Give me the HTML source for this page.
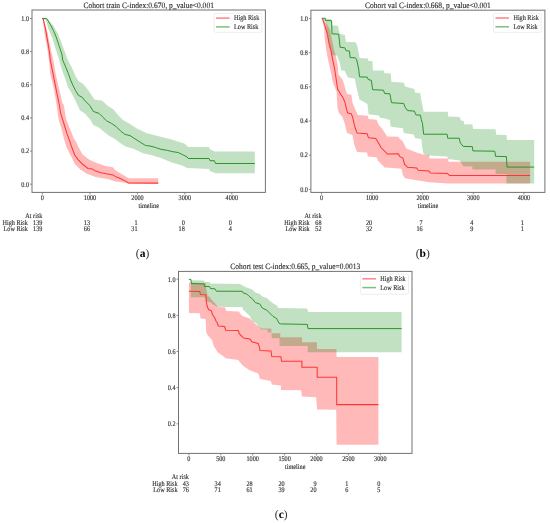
<!DOCTYPE html>
<html><head><meta charset="utf-8"><style>
html,body{margin:0;padding:0;background:#fff;}
body{width:550px;height:523px;overflow:hidden;}
svg{display:block;}
svg text{font-family:"Liberation Serif",serif;fill:#2a2a2a;stroke:#2a2a2a;text-rendering:geometricPrecision;}
</style></head><body>
<svg width="550" height="523" viewBox="0 0 550 523">
<defs><filter id="bl" x="0" y="0" width="550" height="523" filterUnits="userSpaceOnUse"><feGaussianBlur stdDeviation="0.35"/></filter></defs>
<rect width="550" height="523" fill="#fff"/>
<g filter="url(#bl)">
<rect width="550" height="523" fill="#fff"/>
<polygon points="42.3,18.4 43.7,19.8 47.8,34.1 50.2,46.5 52.6,57.1 53.7,62.0 55.7,74.3 59.1,88.7 62.4,103.0 63.8,105.0 66.2,119.3 70.0,128.9 73.9,138.5 76.2,142.0 78.2,146.5 82.4,154.2 89.0,159.6 96.6,162.9 106.4,166.2 113.0,167.3 115.0,170.0 119.5,172.7 124.1,175.5 128.6,178.2 158.2,178.2 158.2,183.8 128.6,183.8 122.3,182.3 115.2,181.4 108.6,179.3 95.5,177.1 86.8,173.8 80.3,169.4 74.8,164.0 69.4,153.1 66.3,147.0 63.9,138.5 61.5,128.9 58.6,119.3 57.3,110.0 56.3,103.0 53.9,88.7 50.3,74.3 49.1,62.0 48.3,55.2 46.4,43.7 44.5,34.1 42.8,19.8 42.3,18.4" fill="#ff0000" fill-opacity="0.275"/>
<polygon points="42.3,18.4 47.1,18.6 53.3,25.5 58.1,34.1 62.9,46.5 66.7,57.1 67.9,60.0 71.8,67.6 75.6,76.3 78.5,81.0 83.2,83.9 88.5,90.6 94.6,99.8 102.0,100.5 107.7,105.7 113.5,109.6 118.2,115.3 123.0,120.1 130.0,123.9 136.4,128.2 147.3,133.6 150.0,134.0 158.7,136.2 171.8,139.5 184.9,143.8 188.2,147.1 209.0,147.1 210.0,149.3 214.4,151.5 254.8,151.5 254.8,173.3 215.5,173.3 210.0,171.0 209.0,169.0 187.1,167.9 182.8,165.7 171.8,162.4 160.9,158.0 150.0,154.8 143.6,153.6 132.7,148.5 125.9,146.8 120.2,143.0 115.4,139.2 108.7,135.4 104.9,132.5 99.1,127.7 93.4,124.9 90.5,120.1 84.8,113.4 80.0,110.5 78.0,106.0 75.6,101.1 71.8,93.5 67.9,86.8 66.0,81.0 62.2,70.5 60.5,65.0 58.6,58.0 55.2,47.5 52.3,37.9 48.5,29.3 46.1,20.7 42.3,18.4" fill="#008000" fill-opacity="0.24"/>
<polyline points="42.3,18.4 43.3,19.3 45.6,29.3 47.6,40.8 49.5,52.3 50.3,60.0 52.2,69.6 54.1,79.1 56.0,88.7 57.9,98.2 59.3,105.0 60.7,113.6 62.6,119.3 64.6,126.0 67.0,133.7 69.8,141.3 71.5,146.5 74.8,155.3 78.1,159.6 82.4,164.0 87.9,168.4 92.3,168.9 95.5,171.1 101.0,172.7 106.4,173.8 113.0,174.9 116.3,177.1 118.6,177.7 122.3,179.5 125.9,181.4 128.6,182.9 158.2,183.1" fill="none" stroke="#ff3636" stroke-width="1.05" stroke-linejoin="miter"/>
<polyline points="42.3,18.4 46.6,18.4 50.4,24.6 53.3,30.3 56.2,37.0 59.0,45.6 61.9,54.2 62.7,60.0 65.1,65.7 67.9,72.4 70.3,79.1 72.7,84.9 75.6,90.6 78.5,95.4 82.3,97.3 84.3,100.0 89.6,105.3 93.4,111.5 99.1,113.4 102.9,117.2 106.8,121.0 111.5,123.4 116.3,126.8 120.2,130.6 124.9,134.4 130.0,135.6 138.2,140.9 145.5,145.5 150.0,146.0 155.5,147.5 160.9,149.3 167.5,150.4 171.8,151.5 178.4,152.6 182.8,154.8 187.1,156.9 188.2,158.5 209.0,158.5 210.0,160.7 214.4,160.7 215.5,163.5 254.8,163.5" fill="none" stroke="#2a962a" stroke-width="1.0" stroke-linejoin="miter"/>
<rect x="32.0" y="10.0" width="233.4" height="182.4" fill="none" stroke="#727272" stroke-width="1"/>
<line x1="30.0" y1="184.2" x2="32.0" y2="184.2" stroke="#727272" stroke-width="0.8"/>
<text transform="translate(29.00,186.50) scale(0.0970,0.1120)" text-anchor="end" font-size="64.0" stroke-width="1.20">0.0</text>
<line x1="30.0" y1="151.1" x2="32.0" y2="151.1" stroke="#727272" stroke-width="0.8"/>
<text transform="translate(29.00,153.36) scale(0.0970,0.1120)" text-anchor="end" font-size="64.0" stroke-width="1.20">0.2</text>
<line x1="30.0" y1="117.9" x2="32.0" y2="117.9" stroke="#727272" stroke-width="0.8"/>
<text transform="translate(29.00,120.22) scale(0.0970,0.1120)" text-anchor="end" font-size="64.0" stroke-width="1.20">0.4</text>
<line x1="30.0" y1="84.8" x2="32.0" y2="84.8" stroke="#727272" stroke-width="0.8"/>
<text transform="translate(29.00,87.08) scale(0.0970,0.1120)" text-anchor="end" font-size="64.0" stroke-width="1.20">0.6</text>
<line x1="30.0" y1="51.6" x2="32.0" y2="51.6" stroke="#727272" stroke-width="0.8"/>
<text transform="translate(29.00,53.94) scale(0.0970,0.1120)" text-anchor="end" font-size="64.0" stroke-width="1.20">0.8</text>
<line x1="30.0" y1="18.5" x2="32.0" y2="18.5" stroke="#727272" stroke-width="0.8"/>
<text transform="translate(29.00,20.80) scale(0.0970,0.1120)" text-anchor="end" font-size="64.0" stroke-width="1.20">1.0</text>
<line x1="42.4" y1="192.4" x2="42.4" y2="194.4" stroke="#727272" stroke-width="0.8"/>
<text transform="translate(42.40,200.05) scale(0.0970,0.1120)" text-anchor="middle" font-size="64.0" stroke-width="1.20">0</text>
<line x1="90.0" y1="192.4" x2="90.0" y2="194.4" stroke="#727272" stroke-width="0.8"/>
<text transform="translate(90.00,200.05) scale(0.0970,0.1120)" text-anchor="middle" font-size="64.0" stroke-width="1.20">1000</text>
<line x1="137.5" y1="192.4" x2="137.5" y2="194.4" stroke="#727272" stroke-width="0.8"/>
<text transform="translate(137.50,200.05) scale(0.0970,0.1120)" text-anchor="middle" font-size="64.0" stroke-width="1.20">2000</text>
<line x1="184.8" y1="192.4" x2="184.8" y2="194.4" stroke="#727272" stroke-width="0.8"/>
<text transform="translate(184.80,200.05) scale(0.0970,0.1120)" text-anchor="middle" font-size="64.0" stroke-width="1.20">3000</text>
<line x1="231.8" y1="192.4" x2="231.8" y2="194.4" stroke="#727272" stroke-width="0.8"/>
<text transform="translate(231.80,200.05) scale(0.0970,0.1120)" text-anchor="middle" font-size="64.0" stroke-width="1.20">4000</text>
<text transform="translate(148.72,207.85) scale(0.0970,0.1120)" text-anchor="middle" font-size="64.0" stroke-width="1.20">timeline</text>
<text transform="translate(148.72,7.75) scale(0.0970,0.1070)" text-anchor="middle" font-size="77.5" stroke-width="1.20">Cohort train C-index:0.670, p_value&lt;0.001</text>
<rect x="214.1" y="13.4" width="47.9" height="18.9" rx="1.5" fill="#fff" fill-opacity="0.8" stroke="#e2e2e2" stroke-width="0.6"/>
<line x1="216.0" y1="18.1" x2="229.6" y2="18.1" stroke="#ff3636" stroke-opacity="0.62" stroke-width="1.5"/>
<line x1="216.0" y1="26.9" x2="229.6" y2="26.9" stroke="#2a962a" stroke-opacity="0.62" stroke-width="1.5"/>
<text transform="translate(234.00,20.30) scale(0.0970,0.1120)" font-size="64.0" stroke-width="1.20">High Risk</text>
<text transform="translate(234.00,29.10) scale(0.0970,0.1120)" font-size="64.0" stroke-width="1.20">Low Risk</text>
<text transform="translate(42.40,218.05) scale(0.0970,0.1120)" text-anchor="end" font-size="64.0" stroke-width="1.20">At risk</text>
<text transform="translate(27.80,224.65) scale(0.0970,0.1120)" text-anchor="end" font-size="64.0" stroke-width="1.20">High Risk</text>
<text transform="translate(27.80,231.25) scale(0.0970,0.1120)" text-anchor="end" font-size="64.0" stroke-width="1.20">Low Risk</text>
<text transform="translate(42.40,224.65) scale(0.0970,0.1120)" text-anchor="end" font-size="64.0" stroke-width="1.20">139</text>
<text transform="translate(42.40,231.25) scale(0.0970,0.1120)" text-anchor="end" font-size="64.0" stroke-width="1.20">139</text>
<text transform="translate(90.00,224.65) scale(0.0970,0.1120)" text-anchor="end" font-size="64.0" stroke-width="1.20">13</text>
<text transform="translate(90.00,231.25) scale(0.0970,0.1120)" text-anchor="end" font-size="64.0" stroke-width="1.20">66</text>
<text transform="translate(137.50,224.65) scale(0.0970,0.1120)" text-anchor="end" font-size="64.0" stroke-width="1.20">1</text>
<text transform="translate(137.50,231.25) scale(0.0970,0.1120)" text-anchor="end" font-size="64.0" stroke-width="1.20">31</text>
<text transform="translate(184.80,224.65) scale(0.0970,0.1120)" text-anchor="end" font-size="64.0" stroke-width="1.20">0</text>
<text transform="translate(184.80,231.25) scale(0.0970,0.1120)" text-anchor="end" font-size="64.0" stroke-width="1.20">18</text>
<text transform="translate(231.80,224.65) scale(0.0970,0.1120)" text-anchor="end" font-size="64.0" stroke-width="1.20">0</text>
<text transform="translate(231.80,231.25) scale(0.0970,0.1120)" text-anchor="end" font-size="64.0" stroke-width="1.20">4</text>
<text x="142.5" y="257.0" text-anchor="middle" font-size="11.5" style="fill:#333;stroke:none">(<tspan font-weight="bold" style="fill:#000">a</tspan>)</text>
<polygon points="321.9,18.3 326.0,21.9 330.1,30.0 332.0,40.0 334.1,50.0 335.7,55.6 337.7,65.0 338.4,74.2 342.8,79.9 346.8,93.7 351.4,94.8 352.5,102.8 356.0,110.9 357.8,115.0 367.8,115.7 368.5,119.1 376.5,119.7 378.5,124.4 381.9,128.4 385.9,134.5 387.2,136.5 398.3,136.7 400.0,138.9 402.5,141.0 406.4,148.5 416.5,152.6 422.9,154.6 429.3,155.0 429.5,158.6 448.3,158.6 448.5,161.7 530.1,161.7 530.1,183.4 448.3,183.4 429.3,182.2 416.5,180.3 405.1,178.3 402.9,174.9 401.4,168.8 386.1,167.5 385.2,167.9 381.2,163.9 377.8,160.6 376.5,157.2 367.8,156.5 367.1,152.5 357.1,151.9 354.4,145.2 352.4,135.1 347.0,133.1 344.4,122.4 342.4,117.0 339.0,113.0 337.6,108.6 336.5,91.4 332.7,81.9 330.7,71.2 328.0,59.2 326.0,48.5 324.7,39.1 324.0,28.4 322.7,20.4 321.9,18.9" fill="#ff0000" fill-opacity="0.275"/>
<polygon points="321.9,18.3 331.0,18.9 332.2,25.2 337.9,25.8 339.7,33.8 344.8,34.9 346.0,41.8 355.7,42.2 357.2,45.5 358.6,52.2 359.6,57.9 367.7,58.4 368.2,60.8 372.5,61.3 372.9,70.4 383.9,70.4 384.4,73.2 390.6,73.2 391.5,82.0 403.7,82.5 405.2,86.6 414.4,88.9 415.2,92.8 420.2,92.9 421.3,100.3 423.6,111.8 447.7,111.8 448.3,116.4 459.7,117.0 460.9,120.4 463.7,121.0 464.3,124.4 472.4,124.3 473.1,129.0 495.5,129.3 496.3,134.7 506.4,135.0 507.1,140.1 534.2,140.1 534.2,183.4 506.4,183.4 506.4,174.1 495.5,174.1 495.5,169.5 472.4,169.5 472.4,166.4 463.1,166.2 461.1,162.4 459.8,160.5 448.0,158.9 447.3,156.6 428.9,155.5 423.6,154.3 422.0,145.9 421.3,139.0 415.2,138.2 413.6,134.4 403.7,132.9 402.9,128.3 390.7,126.8 389.9,119.9 383.8,118.3 380.0,117.8 378.9,115.5 368.6,114.3 367.4,104.0 359.4,99.4 358.3,94.8 356.0,85.1 354.8,78.8 347.9,77.6 344.5,70.7 341.1,70.2 339.9,63.0 337.1,55.6 331.8,55.3 330.1,50.0 327.7,40.0 326.4,30.0 325.9,21.2 321.9,18.3" fill="#008000" fill-opacity="0.24"/>
<polyline points="321.9,18.3 322.5,18.9 325.3,26.9 327.6,34.9 329.0,43.0 331.1,51.0 333.0,61.3 334.5,68.2 335.6,75.3 337.6,89.1 339.9,93.1 343.3,98.3 345.1,102.8 346.8,110.3 347.7,113.0 351.1,113.7 352.4,116.4 355.1,127.8 357.1,133.1 367.1,133.8 368.5,137.8 375.8,138.5 377.8,141.8 381.2,147.8 385.9,152.5 387.2,153.9 398.3,153.8 399.9,156.6 402.9,158.1 404.5,164.2 407.5,167.3 416.7,168.0 418.2,170.3 428.9,171.1 430.5,173.1 447.3,173.4 449.6,175.5 530.1,175.5" fill="none" stroke="#ff3636" stroke-width="1.05" stroke-linejoin="miter"/>
<polyline points="321.9,18.3 325.3,18.3 325.3,20.6 331.6,20.7 332.0,33.8 338.7,34.2 340.1,47.3 344.8,47.8 346.1,50.7 349.5,51.1 350.1,57.6 355.3,57.8 356.7,59.9 358.5,68.0 359.6,76.9 367.2,77.1 368.2,79.5 371.4,80.4 372.6,89.7 383.5,90.2 384.6,93.5 389.9,93.8 391.5,102.7 403.7,103.5 405.2,107.3 407.5,110.6 414.4,111.1 415.9,114.9 420.5,115.2 421.3,119.8 422.5,123.3 423.6,134.2 447.1,134.2 447.7,138.2 459.2,138.2 460.3,142.8 463.2,146.4 472.3,146.6 472.9,150.9 494.8,151.2 495.5,156.3 506.4,156.6 507.1,167.1 534.2,167.1" fill="none" stroke="#2a962a" stroke-width="1.0" stroke-linejoin="miter"/>
<rect x="310.9" y="10.2" width="234.0" height="182.2" fill="none" stroke="#727272" stroke-width="1"/>
<line x1="308.9" y1="189.3" x2="310.9" y2="189.3" stroke="#727272" stroke-width="0.8"/>
<text transform="translate(307.95,191.60) scale(0.0970,0.1120)" text-anchor="end" font-size="64.0" stroke-width="1.20">0.0</text>
<line x1="308.9" y1="155.2" x2="310.9" y2="155.2" stroke="#727272" stroke-width="0.8"/>
<text transform="translate(307.95,157.46) scale(0.0970,0.1120)" text-anchor="end" font-size="64.0" stroke-width="1.20">0.2</text>
<line x1="308.9" y1="121.0" x2="310.9" y2="121.0" stroke="#727272" stroke-width="0.8"/>
<text transform="translate(307.95,123.32) scale(0.0970,0.1120)" text-anchor="end" font-size="64.0" stroke-width="1.20">0.4</text>
<line x1="308.9" y1="86.9" x2="310.9" y2="86.9" stroke="#727272" stroke-width="0.8"/>
<text transform="translate(307.95,89.18) scale(0.0970,0.1120)" text-anchor="end" font-size="64.0" stroke-width="1.20">0.6</text>
<line x1="308.9" y1="52.7" x2="310.9" y2="52.7" stroke="#727272" stroke-width="0.8"/>
<text transform="translate(307.95,55.04) scale(0.0970,0.1120)" text-anchor="end" font-size="64.0" stroke-width="1.20">0.8</text>
<line x1="308.9" y1="18.6" x2="310.9" y2="18.6" stroke="#727272" stroke-width="0.8"/>
<text transform="translate(307.95,20.90) scale(0.0970,0.1120)" text-anchor="end" font-size="64.0" stroke-width="1.20">1.0</text>
<line x1="321.5" y1="192.4" x2="321.5" y2="194.4" stroke="#727272" stroke-width="0.8"/>
<text transform="translate(321.50,200.05) scale(0.0970,0.1120)" text-anchor="middle" font-size="64.0" stroke-width="1.20">0</text>
<line x1="372.1" y1="192.4" x2="372.1" y2="194.4" stroke="#727272" stroke-width="0.8"/>
<text transform="translate(372.10,200.05) scale(0.0970,0.1120)" text-anchor="middle" font-size="64.0" stroke-width="1.20">1000</text>
<line x1="422.7" y1="192.4" x2="422.7" y2="194.4" stroke="#727272" stroke-width="0.8"/>
<text transform="translate(422.70,200.05) scale(0.0970,0.1120)" text-anchor="middle" font-size="64.0" stroke-width="1.20">2000</text>
<line x1="473.3" y1="192.4" x2="473.3" y2="194.4" stroke="#727272" stroke-width="0.8"/>
<text transform="translate(473.30,200.05) scale(0.0970,0.1120)" text-anchor="middle" font-size="64.0" stroke-width="1.20">3000</text>
<line x1="523.9" y1="192.4" x2="523.9" y2="194.4" stroke="#727272" stroke-width="0.8"/>
<text transform="translate(523.90,200.05) scale(0.0970,0.1120)" text-anchor="middle" font-size="64.0" stroke-width="1.20">4000</text>
<text transform="translate(427.96,207.85) scale(0.0970,0.1120)" text-anchor="middle" font-size="64.0" stroke-width="1.20">timeline</text>
<text transform="translate(427.96,7.70) scale(0.0970,0.1070)" text-anchor="middle" font-size="77.5" stroke-width="1.20">Cohort val C-index:0.668, p_value&lt;0.001</text>
<rect x="493.5" y="13.3" width="47.6" height="19.1" rx="1.5" fill="#fff" fill-opacity="0.8" stroke="#e2e2e2" stroke-width="0.6"/>
<line x1="495.4" y1="18.0" x2="509.0" y2="18.0" stroke="#ff3636" stroke-opacity="0.62" stroke-width="1.5"/>
<line x1="495.4" y1="26.8" x2="509.0" y2="26.8" stroke="#2a962a" stroke-opacity="0.62" stroke-width="1.5"/>
<text transform="translate(513.40,20.20) scale(0.0970,0.1120)" font-size="64.0" stroke-width="1.20">High Risk</text>
<text transform="translate(513.40,29.00) scale(0.0970,0.1120)" font-size="64.0" stroke-width="1.20">Low Risk</text>
<text transform="translate(321.50,218.05) scale(0.0970,0.1120)" text-anchor="end" font-size="64.0" stroke-width="1.20">At risk</text>
<text transform="translate(309.70,224.65) scale(0.0970,0.1120)" text-anchor="end" font-size="64.0" stroke-width="1.20">High Risk</text>
<text transform="translate(309.70,231.25) scale(0.0970,0.1120)" text-anchor="end" font-size="64.0" stroke-width="1.20">Low Risk</text>
<text transform="translate(321.50,224.65) scale(0.0970,0.1120)" text-anchor="end" font-size="64.0" stroke-width="1.20">68</text>
<text transform="translate(321.50,231.25) scale(0.0970,0.1120)" text-anchor="end" font-size="64.0" stroke-width="1.20">52</text>
<text transform="translate(372.10,224.65) scale(0.0970,0.1120)" text-anchor="end" font-size="64.0" stroke-width="1.20">20</text>
<text transform="translate(372.10,231.25) scale(0.0970,0.1120)" text-anchor="end" font-size="64.0" stroke-width="1.20">32</text>
<text transform="translate(422.70,224.65) scale(0.0970,0.1120)" text-anchor="end" font-size="64.0" stroke-width="1.20">7</text>
<text transform="translate(422.70,231.25) scale(0.0970,0.1120)" text-anchor="end" font-size="64.0" stroke-width="1.20">16</text>
<text transform="translate(473.30,224.65) scale(0.0970,0.1120)" text-anchor="end" font-size="64.0" stroke-width="1.20">4</text>
<text transform="translate(473.30,231.25) scale(0.0970,0.1120)" text-anchor="end" font-size="64.0" stroke-width="1.20">9</text>
<text transform="translate(523.90,224.65) scale(0.0970,0.1120)" text-anchor="end" font-size="64.0" stroke-width="1.20">1</text>
<text transform="translate(523.90,231.25) scale(0.0970,0.1120)" text-anchor="end" font-size="64.0" stroke-width="1.20">1</text>
<text x="422.7" y="257.0" text-anchor="middle" font-size="11.5" style="fill:#333;stroke:none">(<tspan font-weight="bold" style="fill:#000">b</tspan>)</text>
<polygon points="188.9,282.7 205.9,283.0 205.9,286.8 207.7,295.9 209.5,296.8 211.4,299.5 213.2,301.4 215.0,303.2 216.4,305.0 217.7,306.8 225.1,307.5 226.3,310.9 238.9,311.5 241.2,314.9 243.1,316.3 249.9,318.6 255.3,323.9 261.5,328.4 271.4,328.4 271.4,333.2 280.3,333.2 280.3,337.3 302.0,337.3 302.0,342.3 317.0,342.3 317.0,349.0 336.4,349.0 336.6,357.0 378.4,357.0 378.4,444.8 336.6,444.8 336.2,409.8 317.1,409.6 316.1,397.2 302.0,396.6 301.0,390.2 280.9,390.0 280.9,385.5 271.8,384.5 270.9,380.9 260.0,379.1 258.2,373.6 249.1,370.0 242.7,365.5 238.2,360.0 225.5,358.2 223.6,356.4 218.3,352.8 217.3,351.8 213.7,345.9 212.0,340.1 207.9,335.6 206.2,332.1 205.6,318.9 200.5,318.5 199.9,313.3 188.9,313.0" fill="#ff0000" fill-opacity="0.275"/>
<polygon points="188.9,279.3 191.5,280.2 204.1,280.4 204.5,281.9 209.7,282.1 210.3,283.4 240.0,283.9 243.1,285.7 246.1,287.2 252.2,289.5 255.3,292.6 259.9,294.1 262.2,296.4 266.8,297.9 269.1,300.2 272.9,303.3 276.7,305.6 278.2,307.9 307.3,308.5 308.0,312.0 401.6,312.0 401.6,352.3 307.7,352.3 307.7,345.9 279.5,345.9 279.5,338.3 271.8,338.3 271.4,332.5 267.5,332.5 267.5,329.5 261.0,329.5 256.8,323.9 252.2,320.9 249.9,316.3 244.6,310.9 242.9,309.2 242.3,306.9 225.7,306.9 216.8,306.5 212.3,304.1 210.5,302.3 205.9,301.4 204.5,297.3 190.9,297.3 190.9,279.5 188.9,279.3" fill="#008000" fill-opacity="0.24"/>
<polyline points="188.9,291.3 199.7,291.4 200.5,294.6 205.9,294.8 206.3,301.4 207.3,306.8 208.6,309.5 211.4,310.9 212.4,314.5 214.8,318.0 216.2,321.5 217.1,322.5 218.3,326.0 224.6,326.5 225.7,330.2 238.3,330.6 239.3,333.6 243.6,338.0 250.0,339.1 251.8,341.8 258.2,343.4 259.4,347.2 260.0,350.5 271.0,351.0 271.8,356.5 280.9,356.8 281.5,361.3 301.9,361.3 301.9,367.3 317.2,367.3 317.2,377.3 336.7,377.3 336.7,404.6 378.4,404.6" fill="none" stroke="#ff3636" stroke-width="1.05" stroke-linejoin="miter"/>
<polyline points="188.9,279.3 190.9,279.5 191.4,283.6 204.1,283.9 204.5,286.4 209.5,286.6 210.5,288.6 215.0,288.8 216.4,291.2 242.3,291.3 243.3,293.0 246.9,294.1 249.2,296.4 252.2,298.7 255.3,302.5 259.9,304.1 262.2,307.9 266.8,310.2 269.8,313.2 272.9,316.3 276.7,318.6 279.0,323.2 280.5,323.9 307.3,324.4 308.0,328.6 401.6,328.6" fill="none" stroke="#2a962a" stroke-width="1.0" stroke-linejoin="miter"/>
<rect x="178.5" y="271.4" width="233.5" height="182.0" fill="none" stroke="#727272" stroke-width="1"/>
<line x1="176.5" y1="423.8" x2="178.5" y2="423.8" stroke="#727272" stroke-width="0.8"/>
<text transform="translate(175.50,426.06) scale(0.0970,0.1120)" text-anchor="end" font-size="64.0" stroke-width="1.20">0.2</text>
<line x1="176.5" y1="387.6" x2="178.5" y2="387.6" stroke="#727272" stroke-width="0.8"/>
<text transform="translate(175.50,389.92) scale(0.0970,0.1120)" text-anchor="end" font-size="64.0" stroke-width="1.20">0.4</text>
<line x1="176.5" y1="351.5" x2="178.5" y2="351.5" stroke="#727272" stroke-width="0.8"/>
<text transform="translate(175.50,353.78) scale(0.0970,0.1120)" text-anchor="end" font-size="64.0" stroke-width="1.20">0.6</text>
<line x1="176.5" y1="315.3" x2="178.5" y2="315.3" stroke="#727272" stroke-width="0.8"/>
<text transform="translate(175.50,317.64) scale(0.0970,0.1120)" text-anchor="end" font-size="64.0" stroke-width="1.20">0.8</text>
<line x1="176.5" y1="279.2" x2="178.5" y2="279.2" stroke="#727272" stroke-width="0.8"/>
<text transform="translate(175.50,281.50) scale(0.0970,0.1120)" text-anchor="end" font-size="64.0" stroke-width="1.20">1.0</text>
<line x1="188.9" y1="453.4" x2="188.9" y2="455.4" stroke="#727272" stroke-width="0.8"/>
<text transform="translate(188.90,460.97) scale(0.0970,0.1120)" text-anchor="middle" font-size="64.0" stroke-width="1.20">0</text>
<line x1="220.8" y1="453.4" x2="220.8" y2="455.4" stroke="#727272" stroke-width="0.8"/>
<text transform="translate(220.80,460.97) scale(0.0970,0.1120)" text-anchor="middle" font-size="64.0" stroke-width="1.20">500</text>
<line x1="252.7" y1="453.4" x2="252.7" y2="455.4" stroke="#727272" stroke-width="0.8"/>
<text transform="translate(252.70,460.97) scale(0.0970,0.1120)" text-anchor="middle" font-size="64.0" stroke-width="1.20">1000</text>
<line x1="284.6" y1="453.4" x2="284.6" y2="455.4" stroke="#727272" stroke-width="0.8"/>
<text transform="translate(284.60,460.97) scale(0.0970,0.1120)" text-anchor="middle" font-size="64.0" stroke-width="1.20">1500</text>
<line x1="316.5" y1="453.4" x2="316.5" y2="455.4" stroke="#727272" stroke-width="0.8"/>
<text transform="translate(316.50,460.97) scale(0.0970,0.1120)" text-anchor="middle" font-size="64.0" stroke-width="1.20">2000</text>
<line x1="348.4" y1="453.4" x2="348.4" y2="455.4" stroke="#727272" stroke-width="0.8"/>
<text transform="translate(348.40,460.97) scale(0.0970,0.1120)" text-anchor="middle" font-size="64.0" stroke-width="1.20">2500</text>
<line x1="380.3" y1="453.4" x2="380.3" y2="455.4" stroke="#727272" stroke-width="0.8"/>
<text transform="translate(380.30,460.97) scale(0.0970,0.1120)" text-anchor="middle" font-size="64.0" stroke-width="1.20">3000</text>
<text transform="translate(295.25,468.77) scale(0.0970,0.1120)" text-anchor="middle" font-size="64.0" stroke-width="1.20">timeline</text>
<text transform="translate(295.25,268.60) scale(0.0970,0.1070)" text-anchor="middle" font-size="77.0" stroke-width="1.20">Cohort test C-index:0.665, p_value=0.0013</text>
<rect x="360.4" y="274.1" width="48.1" height="20.1" rx="1.5" fill="#fff" fill-opacity="0.8" stroke="#e2e2e2" stroke-width="0.6"/>
<line x1="362.3" y1="278.8" x2="375.9" y2="278.8" stroke="#ff3636" stroke-opacity="0.62" stroke-width="1.5"/>
<line x1="362.3" y1="287.6" x2="375.9" y2="287.6" stroke="#2a962a" stroke-opacity="0.62" stroke-width="1.5"/>
<text transform="translate(380.30,281.00) scale(0.0970,0.1120)" font-size="64.0" stroke-width="1.20">High Risk</text>
<text transform="translate(380.30,289.80) scale(0.0970,0.1120)" font-size="64.0" stroke-width="1.20">Low Risk</text>
<text transform="translate(188.90,478.97) scale(0.0970,0.1120)" text-anchor="end" font-size="64.0" stroke-width="1.20">At risk</text>
<text transform="translate(177.60,485.57) scale(0.0970,0.1120)" text-anchor="end" font-size="64.0" stroke-width="1.20">High Risk</text>
<text transform="translate(177.60,492.17) scale(0.0970,0.1120)" text-anchor="end" font-size="64.0" stroke-width="1.20">Low Risk</text>
<text transform="translate(188.90,485.57) scale(0.0970,0.1120)" text-anchor="end" font-size="64.0" stroke-width="1.20">43</text>
<text transform="translate(188.90,492.17) scale(0.0970,0.1120)" text-anchor="end" font-size="64.0" stroke-width="1.20">76</text>
<text transform="translate(220.80,485.57) scale(0.0970,0.1120)" text-anchor="end" font-size="64.0" stroke-width="1.20">34</text>
<text transform="translate(220.80,492.17) scale(0.0970,0.1120)" text-anchor="end" font-size="64.0" stroke-width="1.20">71</text>
<text transform="translate(252.70,485.57) scale(0.0970,0.1120)" text-anchor="end" font-size="64.0" stroke-width="1.20">28</text>
<text transform="translate(252.70,492.17) scale(0.0970,0.1120)" text-anchor="end" font-size="64.0" stroke-width="1.20">61</text>
<text transform="translate(284.60,485.57) scale(0.0970,0.1120)" text-anchor="end" font-size="64.0" stroke-width="1.20">20</text>
<text transform="translate(284.60,492.17) scale(0.0970,0.1120)" text-anchor="end" font-size="64.0" stroke-width="1.20">39</text>
<text transform="translate(316.50,485.57) scale(0.0970,0.1120)" text-anchor="end" font-size="64.0" stroke-width="1.20">9</text>
<text transform="translate(316.50,492.17) scale(0.0970,0.1120)" text-anchor="end" font-size="64.0" stroke-width="1.20">20</text>
<text transform="translate(348.40,485.57) scale(0.0970,0.1120)" text-anchor="end" font-size="64.0" stroke-width="1.20">1</text>
<text transform="translate(348.40,492.17) scale(0.0970,0.1120)" text-anchor="end" font-size="64.0" stroke-width="1.20">6</text>
<text transform="translate(380.30,485.57) scale(0.0970,0.1120)" text-anchor="end" font-size="64.0" stroke-width="1.20">0</text>
<text transform="translate(380.30,492.17) scale(0.0970,0.1120)" text-anchor="end" font-size="64.0" stroke-width="1.20">5</text>
<text x="281.2" y="518.2" text-anchor="middle" font-size="11.5" style="fill:#333;stroke:none">(<tspan font-weight="bold" style="fill:#000">c</tspan>)</text>
</g>
</svg>
</body></html>
